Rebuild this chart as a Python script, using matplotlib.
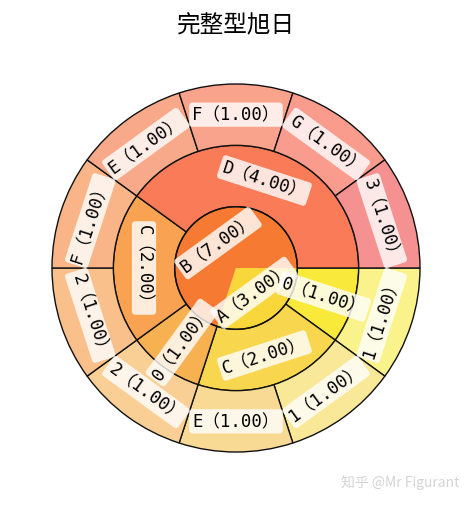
import numpy as np
import matplotlib
matplotlib.use("Agg")
import matplotlib.pyplot as plt
from matplotlib.patches import Circle

# ---- data ----
leaf_paths = [
    ("A", "0", "1"), ("A", "C", "1"), ("A", "C", "E"),
    ("B", "0", "2"), ("B", "C", "2"), ("B", "C", "F"),
    ("B", "D", "E"), ("B", "D", "F"), ("B", "D", "G"), ("B", "D", "3"),
]
leaf_values = [1, 1, 1, 1, 1, 1, 1, 1, 1, 1]
title_text = "完整型旭日"
watermark_text = "知乎 @Mr Figurant"

# colours per ring (styles)
inner_colors = ["#F9D63A", "#F77A32"]
middle_colors = ["#F8E93A", "#F8D64E", "#F8B150", "#F8A252", "#F97B58"]
outer_colors = ["#FAF38C", "#F9E898", "#F9DA95", "#F9CF96", "#F9C08C",
                "#F9B588", "#F8A989", "#F9A38C", "#F99C8E", "#F69191"]


def aggregate(level):
    names, vals = [], []
    keys = []
    for p, v in zip(leaf_paths, leaf_values):
        k = p[:level + 1]
        if keys and keys[-1] == k:
            vals[-1] += v
        else:
            keys.append(k)
            names.append(k[-1])
            vals.append(v)
    return names, vals


rings = [aggregate(i) for i in range(3)]
ring_colors = [inner_colors, middle_colors, outer_colors]

fig = plt.figure(figsize=(4.74, 5.06), dpi=100)
ax = fig.add_axes([52 / 474, 53 / 506, 368 / 474, 368 / 506])

w = 1 / 3
lw = 1.0
for i, ((names, vals), cols) in enumerate(zip(rings, ring_colors)):
    radius = (i + 1) * w
    if i == 0:
        wedges, _ = ax.pie(vals, radius=radius, colors=cols, startangle=0,
                           counterclock=False,
                           wedgeprops=dict(linewidth=0, edgecolor="none"))
    else:
        wedges, _ = ax.pie(vals, radius=radius, colors=cols, startangle=0,
                           counterclock=False,
                           wedgeprops=dict(width=w, linewidth=lw,
                                           edgecolor="#111111"))
    for wd in wedges:
        wd.set_clip_on(False)

ax.add_patch(Circle((0, 0), w, fill=False, lw=lw, ec="#111111", zorder=3))


def norm(a):
    return (a + 90) % 180 - 90


font_fam = ["DejaVu Sans Mono", "Noto Sans CJK SC"]
for i, (names, vals) in enumerate(rings):
    total = sum(vals)
    cum = 0
    r_mid = i * w + w / 2
    for n, v in zip(names, vals):
        a0 = -360 * cum / total
        a1 = -360 * (cum + v) / total
        cum += v
        mid = (a0 + a1) / 2
        span = np.deg2rad(abs(a1 - a0))
        x = r_mid * np.cos(np.deg2rad(mid))
        y = r_mid * np.sin(np.deg2rad(mid))
        if i > 0 and r_mid * span < 0.4:
            rot = norm(mid)
        else:
            rot = norm(mid - 90)
        ax.text(x, y, f"{n}（{v:.2f}）", rotation=rot, rotation_mode="anchor",
                ha="center", va="center", fontsize=12.5, family=font_fam,
                zorder=5,
                bbox=dict(boxstyle="round,pad=0.18", fc="white", ec="none",
                          alpha=0.8))

ax.set_xlim(-1, 1)
ax.set_ylim(-1, 1)
ax.set_aspect("equal")
ax.axis("off")

fig.text(236 / 474, 1 - 26 / 506, title_text, ha="center", va="center",
         fontsize=17, family=["Noto Sans CJK SC", "DejaVu Sans"])
fig.text(400 / 474, 1 - 483 / 506, watermark_text, ha="center", va="center",
         fontsize=10, color="#d4d4d4", family=["Noto Sans CJK SC", "DejaVu Sans"])

fig.savefig("out.png", dpi=100)
